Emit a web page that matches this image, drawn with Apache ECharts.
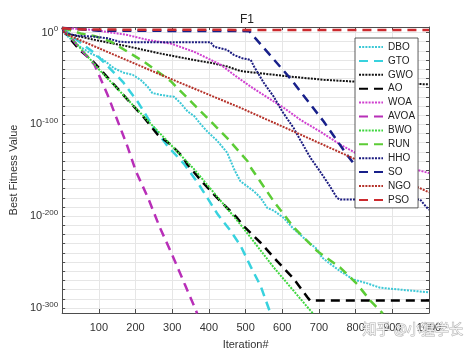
<!DOCTYPE html>
<html><head><meta charset="utf-8">
<script src="https://cdn.jsdelivr.net/npm/echarts@6/dist/echarts.min.js"></script>
<style>html,body{margin:0;padding:0;background:#fff}#c{width:474px;height:355px}</style>
</head><body><div id="c"></div>
<script>
// ---------------- data (x: iteration, y: log10 of best fitness value) ----------------
const seriesNames = ['DBO','GTO','GWO','AO','WOA','AVOA','BWO','RUN','HHO','SO','NGO','PSO'];
const xTickValues = [100,200,300,400,500,600,700,800,900,1000];
const yLabelExponents = [-300,-200,-100,0];
const yGridExponents = [-300,-290,-280,-270,-260,-250,-240,-230,-220,-210,-200,-190,-180,-170,-160,-150,-140,-130,-120,-110,-100,-90,-80,-70,-60,-50,-40,-30,-20,-10,0];

const DBO_iter = [1, 6, 43, 79, 106, 142, 169, 192, 215, 233, 246, 269, 305, 323, 342, 360, 378, 396, 423, 450, 470, 486, 523, 541, 559, 577, 604, 631, 668, 695, 708, 731, 758, 794, 830, 867, 921, 1000];
const DBO_log  = [5, -1, -14, -23, -28, -39, -44, -46, -52, -59, -66, -68, -70, -77, -86, -91, -100, -108, -118, -131, -150, -162, -173, -180, -191, -194, -202, -214, -227, -236, -245, -252, -260, -269, -273, -278, -280, -283];

const GTO_iter = [1, 30, 60, 90, 120, 166, 207, 247, 288, 332, 372, 424, 459, 486, 514, 541, 568];
const GTO_log  = [5, -5, -14, -23, -35, -54, -76, -102, -124, -143, -165, -198, -216, -232, -255, -276, -306];

const GWO_iter = [1, 10, 88, 178, 269, 360, 405, 450, 486, 577, 622, 713, 799, 900, 1000];
const GWO_log  = [5, -1, -8, -15, -23, -30, -33, -37, -42, -46, -48, -51.5, -53.5, -55, -56.5];

const AO_iter = [1, 20, 48, 83, 133, 185, 224, 260, 296, 328, 342, 387, 432, 477, 495, 541, 586, 631, 668, 676, 1000];
const AO_log  = [5, -6, -19, -31, -53, -76, -93, -111, -122, -135, -144, -165, -184, -202, -211, -229, -249, -268, -288, -292, -292];

const WOA_iter = [1, 24, 88, 178, 233, 296, 360, 396, 432, 468, 514, 541, 604, 649, 704, 758, 799, 900, 1000];
const WOA_log  = [5, 4.5, 2.7, -2.7, -8, -12, -21, -28, -35, -46, -59, -66, -82, -95, -108, -122, -131, -143, -153];

const AVOA_iter = [1, 25, 52, 88, 124, 149, 177, 201, 235, 266, 303, 334, 361, 368];
const AVOA_log  = [5, -6, -19, -35, -68, -94, -123, -151, -181, -212, -245, -274, -299, -306];

const BWO_iter = [1, 100, 200, 360, 486, 577, 677, 684];
const BWO_log  = [5, -40, -82, -149, -209, -256, -303, -306];

const RUN_iter = [1, 50, 90, 133, 224, 296, 378, 450, 505, 514, 577, 631, 695, 758, 804, 840, 874];
const RUN_log  = [5, -1, -4, -10, -32, -53, -86, -115, -140, -147, -184, -212, -238, -256, -274, -292, -306];

const HHO_iter = [1, 5, 43, 88, 124, 156, 179, 405, 414, 450, 468, 491, 514, 523, 550, 577, 600, 631, 649, 677, 699, 726, 749, 758, 976, 998, 1000];
const HHO_log  = [5, -1, -3.5, -4.5, -6.3, -10, -10.7, -10.7, -15.4, -19, -24.4, -28, -29.8, -37, -55, -70, -86, -104, -117, -136.5, -149, -165, -180, -182, -182, -192.5, -193];

const SO_iter = [1, 100, 510, 523, 622, 713, 776, 860];
const SO_log  = [5, 2, 1.5, -4.5, -50, -97, -133, -176];

const NGO_iter = [1, 6, 269, 486, 649, 799, 972, 1000];
const NGO_log  = [5, -1, -46, -82, -111, -138, -169, -174];

const PSO_iter = [1, 30, 200, 600, 1000];
const PSO_log  = [5, 3.5, 3, 2.8, 2.7];

// ---------------- styles ----------------
const seriesColors = ['#3cc8d6','#38d2de','#111111','#000000','#d040d0','#b82fb8','#3fd63f','#5ccc36','#1b1b80','#18208a','#b5322a','#cc2a2e'];
const seriesDash   = ['dotted','dashed','dotted','dashed','dotted','dashed','dotted','dashed','dotted','dashed','dotted','dashed'];

const allIter = [DBO_iter, GTO_iter, GWO_iter, AO_iter, WOA_iter, AVOA_iter, BWO_iter, RUN_iter, HHO_iter, SO_iter, NGO_iter, PSO_iter];
const allLog  = [DBO_log, GTO_log, GWO_log, AO_log, WOA_log, AVOA_log, BWO_log, RUN_log, HHO_log, SO_log, NGO_log, PSO_log];

const FONT = 'Liberation Sans, Arial, sans-serif';
const series = seriesNames.map((name, i) => ({
  name: name,
  type: 'line',
  symbol: 'none',
  showSymbol: false,
  animation: false,
  data: allIter[i].map((x, k) => [x, allLog[i][k]]),
  lineStyle: {
    color: seriesColors[i],
    width: seriesDash[i] === 'dotted' ? 2 : 2.5,
    type: seriesDash[i] === 'dotted' ? [2, 1.2] : [9, 6]
  },
  itemStyle: { color: seriesColors[i] },
  emphasis: { disabled: true }
}));

const chart = echarts.init(document.getElementById('c'), null, { renderer: 'canvas' });
chart.setOption({
  backgroundColor: '#ffffff',
  animation: false,
  title: {
    text: 'F1', left: 235, top: 9,
    textStyle: { fontSize: 12, fontWeight: 'normal', color: '#222', fontFamily: FONT }
  },
  grid: { left: 61, right: 45, top: 27, bottom: 41 },
  legend: {
    orient: 'vertical', left: 355, top: 38, z: 10,
    padding: [3, 3, 2, 3], itemGap: 1.9, itemWidth: 24, itemHeight: 10,
    backgroundColor: '#ffffff', borderColor: '#333', borderWidth: 0.8, borderRadius: 0,
    itemStyle: { opacity: 0, borderWidth: 0 },
    lineStyle: { width: 2 },
    textStyle: { fontSize: 10, lineHeight: 12, color: '#222', fontFamily: FONT },
    data: seriesNames
  },
  xAxis: [{
    type: 'value', min: 0, max: 1000, interval: 100, position: 'bottom',
    axisLine: { show: true, onZero: false, lineStyle: { color: '#4d4d4d', width: 1 } },
    axisTick: { show: true, inside: true, length: 4, lineStyle: { color: '#4d4d4d' } },
    axisLabel: { color: '#333', fontSize: 11, fontFamily: FONT, margin: 9,
      formatter: v => (xTickValues.indexOf(v) >= 0 ? String(v) : '') },
    splitLine: { show: true, lineStyle: { color: '#e6e6e6', width: 1 } },
    name: 'Iteration#', nameLocation: 'middle', nameGap: 26,
    nameTextStyle: { fontSize: 11, color: '#333', fontFamily: FONT }
  }, {
    type: 'value', min: 0, max: 1000, interval: 100, position: 'top',
    axisLine: { show: true, onZero: false, lineStyle: { color: '#4d4d4d', width: 1 } },
    axisTick: { show: true, inside: true, length: 3, lineStyle: { color: '#4d4d4d' } },
    axisLabel: { show: false }, splitLine: { show: false }
  }],
  yAxis: [{
    type: 'value', min: -305.5, max: 6, position: 'left',
    axisLine: { show: true, onZero: false, lineStyle: { color: '#4d4d4d', width: 1 } },
    axisTick: { show: true, inside: true, length: 3, customValues: yGridExponents, lineStyle: { color: '#4d4d4d' } },
    axisLabel: {
      customValues: yLabelExponents, margin: 4,
      formatter: v => '{b|10}{s|' + v + '}',
      rich: {
        b: { fontSize: 11, color: '#333', fontFamily: FONT },
        s: { fontSize: 8, color: '#333', fontFamily: FONT, padding: [0, 0, 7, 0] }
      }
    },
    splitLine: { show: true, lineStyle: { color: '#e6e6e6', width: 1 } },
    name: 'Best Fitness Value', nameLocation: 'middle', nameGap: 36,
    nameTextStyle: { fontSize: 11, color: '#333', fontFamily: FONT }
  }, {
    type: 'value', min: -305.5, max: 6, position: 'right',
    axisLine: { show: true, onZero: false, lineStyle: { color: '#4d4d4d', width: 1 } },
    axisTick: { show: true, inside: true, length: 3, customValues: yGridExponents, lineStyle: { color: '#4d4d4d' } },
    axisLabel: { show: false }, splitLine: { show: false }
  }],
  graphic: [{
    type: 'text', left: 362, top: 321, z: 100, silent: true,
    style: { text: '知乎 @小猩学长', fontSize: 14, fontFamily: 'Noto Sans CJK SC, sans-serif',
      fill: 'rgba(255,255,255,0.85)', stroke: 'rgba(110,110,110,0.55)', lineWidth: 1 }
  }],
  series: series
});
</script>
</body></html>
